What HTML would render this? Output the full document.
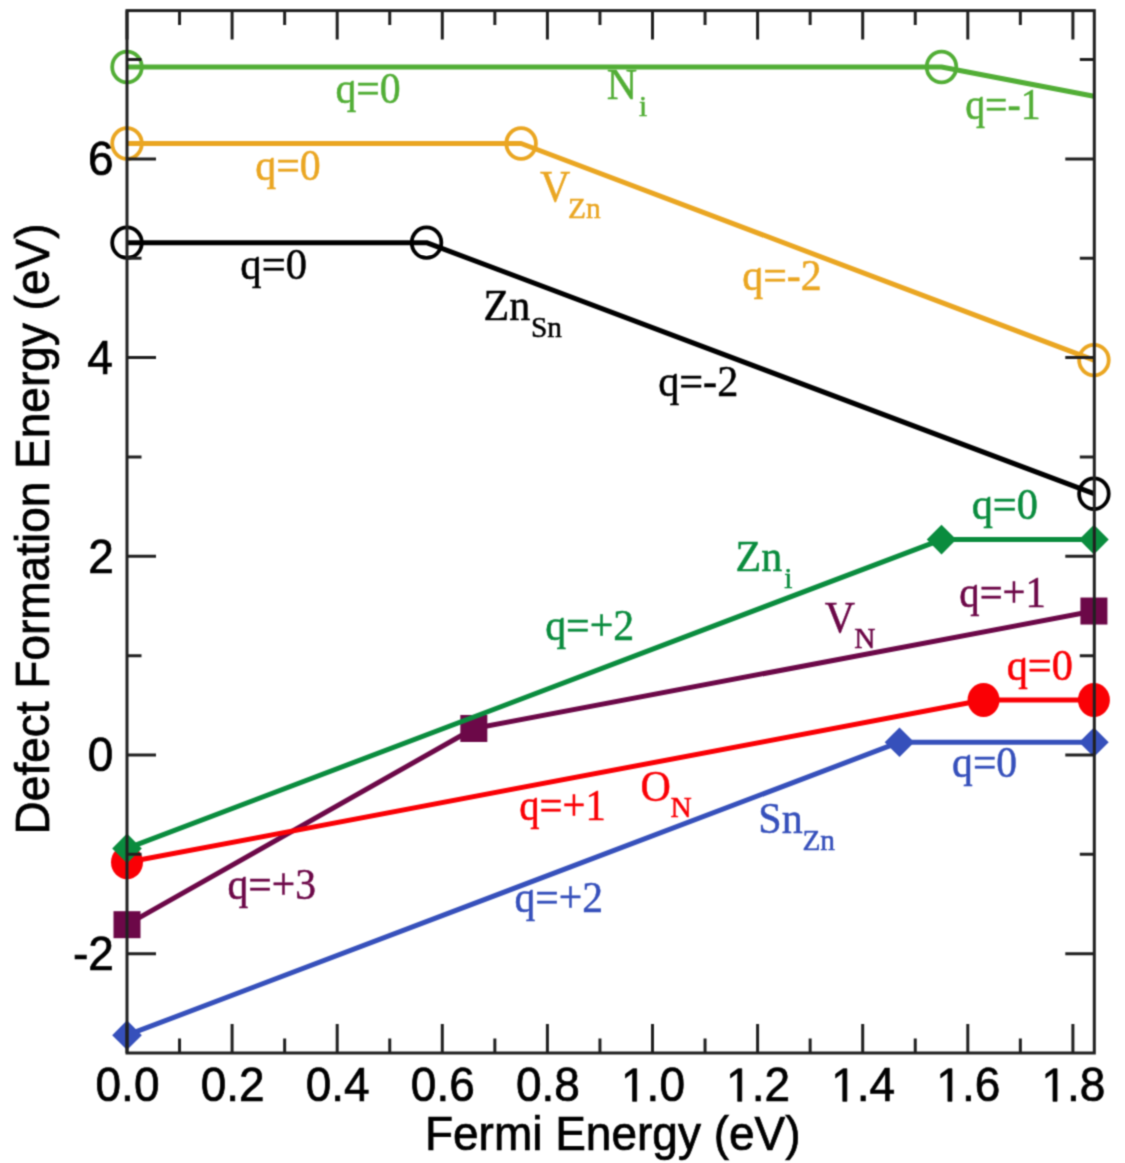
<!DOCTYPE html><html><head><meta charset="utf-8"><style>html,body{margin:0;padding:0;background:#fff;}svg{display:block;}</style></head><body>
<svg width="1125" height="1163" viewBox="0 0 1125 1163">
<defs><filter id="bl" x="0" y="0" width="1125" height="1163" filterUnits="userSpaceOnUse" color-interpolation-filters="sRGB"><feConvolveMatrix order="3" kernelMatrix="0.04000 0.12000 0.04000 0.12000 0.36000 0.12000 0.04000 0.12000 0.04000" divisor="1" edgeMode="duplicate" preserveAlpha="true"/></filter></defs>
<g filter="url(#bl)">
<rect width="1125" height="1163" fill="#fff"/>
<polyline points="127.00,924.69 473.83,728.47 1093.92,611.04" fill="none" stroke="#6c0848" stroke-width="5.0" stroke-linejoin="round"/>
<rect x="113.50" y="911.19" width="27.00" height="27.00" fill="#6c0848"/>
<rect x="460.33" y="714.97" width="27.00" height="27.00" fill="#6c0848"/>
<rect x="1080.42" y="597.54" width="27.00" height="27.00" fill="#6c0848"/>
<polyline points="127.00,862.30 983.56,700.06 1093.92,700.06" fill="none" stroke="#fa0005" stroke-width="5.0" stroke-linejoin="round"/>
<ellipse cx="127.00" cy="862.30" rx="16.0" ry="17.0" fill="#fa0005"/>
<ellipse cx="983.56" cy="700.06" rx="16.0" ry="17.0" fill="#fa0005"/>
<ellipse cx="1093.92" cy="700.06" rx="16.0" ry="17.0" fill="#fa0005"/>
<polyline points="127.00,848.39 941.52,539.61 1093.92,539.61" fill="none" stroke="#0a8c3e" stroke-width="5.0" stroke-linejoin="round"/>
<polygon points="112.20,848.39 127.00,833.59 141.80,848.39 127.00,863.19" fill="#0a8c3e"/>
<polygon points="926.73,539.61 941.52,524.81 956.32,539.61 941.52,554.41" fill="#0a8c3e"/>
<polygon points="1079.12,539.61 1093.92,524.81 1108.72,539.61 1093.92,554.41" fill="#0a8c3e"/>
<polyline points="127.00,1035.17 899.49,742.18 1093.92,742.18" fill="none" stroke="#3650bb" stroke-width="5.0" stroke-linejoin="round"/>
<polygon points="112.20,1035.17 127.00,1020.37 141.80,1035.17 127.00,1049.97" fill="#3650bb"/>
<polygon points="884.69,742.18 899.49,727.38 914.28,742.18 899.49,756.98" fill="#3650bb"/>
<polygon points="1079.12,742.18 1093.92,727.38 1108.72,742.18 1093.92,756.98" fill="#3650bb"/>
<polyline points="127.00,242.65 426.53,242.65 1093.92,493.71" fill="none" stroke="#000000" stroke-width="5.0" stroke-linejoin="round"/>
<ellipse cx="127.00" cy="242.65" rx="14.8" ry="15.3" fill="none" stroke="#000000" stroke-width="3.8"/>
<ellipse cx="426.53" cy="242.65" rx="14.8" ry="15.3" fill="none" stroke="#000000" stroke-width="3.8"/>
<ellipse cx="1093.92" cy="493.71" rx="14.8" ry="15.3" fill="none" stroke="#000000" stroke-width="3.8"/>
<polyline points="127.00,143.50 521.12,143.50 1093.92,360.08" fill="none" stroke="#eaa622" stroke-width="5.0" stroke-linejoin="round"/>
<ellipse cx="127.00" cy="143.50" rx="14.8" ry="15.3" fill="none" stroke="#eaa622" stroke-width="3.8"/>
<ellipse cx="521.12" cy="143.50" rx="14.8" ry="15.3" fill="none" stroke="#eaa622" stroke-width="3.8"/>
<ellipse cx="1093.92" cy="360.08" rx="14.8" ry="15.3" fill="none" stroke="#eaa622" stroke-width="3.8"/>
<polyline points="127.00,67.00 941.52,67.00 1093.92,96.31" fill="none" stroke="#52ae36" stroke-width="5.0" stroke-linejoin="round"/>
<ellipse cx="127.00" cy="67.00" rx="14.8" ry="15.3" fill="none" stroke="#52ae36" stroke-width="3.8"/>
<ellipse cx="941.52" cy="67.00" rx="14.8" ry="15.3" fill="none" stroke="#52ae36" stroke-width="3.8"/>
<path d="M127.00 1053.00L127.00 1024.00 M127.00 10.60L127.00 39.60 M179.55 1053.00L179.55 1038.50 M179.55 10.60L179.55 25.10 M232.10 1053.00L232.10 1024.00 M232.10 10.60L232.10 39.60 M284.65 1053.00L284.65 1038.50 M284.65 10.60L284.65 25.10 M337.20 1053.00L337.20 1024.00 M337.20 10.60L337.20 39.60 M389.75 1053.00L389.75 1038.50 M389.75 10.60L389.75 25.10 M442.30 1053.00L442.30 1024.00 M442.30 10.60L442.30 39.60 M494.85 1053.00L494.85 1038.50 M494.85 10.60L494.85 25.10 M547.40 1053.00L547.40 1024.00 M547.40 10.60L547.40 39.60 M599.95 1053.00L599.95 1038.50 M599.95 10.60L599.95 25.10 M652.50 1053.00L652.50 1024.00 M652.50 10.60L652.50 39.60 M705.05 1053.00L705.05 1038.50 M705.05 10.60L705.05 25.10 M757.60 1053.00L757.60 1024.00 M757.60 10.60L757.60 39.60 M810.15 1053.00L810.15 1038.50 M810.15 10.60L810.15 25.10 M862.70 1053.00L862.70 1024.00 M862.70 10.60L862.70 39.60 M915.25 1053.00L915.25 1038.50 M915.25 10.60L915.25 25.10 M967.80 1053.00L967.80 1024.00 M967.80 10.60L967.80 39.60 M1020.35 1053.00L1020.35 1038.50 M1020.35 10.60L1020.35 25.10 M1072.90 1053.00L1072.90 1024.00 M1072.90 10.60L1072.90 39.60 M127.00 953.70L156.00 953.70 M1094.30 953.70L1065.30 953.70 M127.00 854.35L141.50 854.35 M1094.30 854.35L1079.80 854.35 M127.00 755.00L156.00 755.00 M1094.30 755.00L1065.30 755.00 M127.00 655.65L141.50 655.65 M1094.30 655.65L1079.80 655.65 M127.00 556.30L156.00 556.30 M1094.30 556.30L1065.30 556.30 M127.00 456.95L141.50 456.95 M1094.30 456.95L1079.80 456.95 M127.00 357.60L156.00 357.60 M1094.30 357.60L1065.30 357.60 M127.00 258.25L141.50 258.25 M1094.30 258.25L1079.80 258.25 M127.00 158.90L156.00 158.90 M1094.30 158.90L1065.30 158.90 M127.00 59.55L141.50 59.55 M1094.30 59.55L1079.80 59.55" stroke="#202020" stroke-width="3.0" fill="none"/>
<rect x="127.0" y="10.6" width="967.3" height="1042.4" fill="none" stroke="#202020" stroke-width="3.0"/>
<g font-family='"Liberation Sans", sans-serif' font-size="46" fill="#000" stroke="#000" stroke-width="0.7">
<text transform="translate(95.53,1101.3) scale(1,1.03)">0</text>
<text transform="translate(121.11,1101.3) scale(1,1.03)">.</text>
<text transform="translate(133.89,1101.3) scale(1,1.03)">0</text>
<text transform="translate(200.63,1101.3) scale(1,1.03)">0</text>
<text transform="translate(226.21,1101.3) scale(1,1.03)">.</text>
<text transform="translate(238.99,1101.3) scale(1,1.03)">2</text>
<text transform="translate(305.73,1101.3) scale(1,1.03)">0</text>
<text transform="translate(331.31,1101.3) scale(1,1.03)">.</text>
<text transform="translate(344.09,1101.3) scale(1,1.03)">4</text>
<text transform="translate(410.83,1101.3) scale(1,1.03)">0</text>
<text transform="translate(436.41,1101.3) scale(1,1.03)">.</text>
<text transform="translate(449.19,1101.3) scale(1,1.03)">6</text>
<text transform="translate(515.93,1101.3) scale(1,1.03)">0</text>
<text transform="translate(541.51,1101.3) scale(1,1.03)">.</text>
<text transform="translate(554.29,1101.3) scale(1,1.03)">8</text>
<path transform="translate(621.03,1101.3) scale(0.02246,-0.02313)" d="M515 0H696V1409H530L197 1180V1010L515 1237Z" fill="#000" stroke-width="31.2"/>
<text transform="translate(646.61,1101.3) scale(1,1.03)">.</text>
<text transform="translate(659.39,1101.3) scale(1,1.03)">0</text>
<path transform="translate(726.13,1101.3) scale(0.02246,-0.02313)" d="M515 0H696V1409H530L197 1180V1010L515 1237Z" fill="#000" stroke-width="31.2"/>
<text transform="translate(751.71,1101.3) scale(1,1.03)">.</text>
<text transform="translate(764.49,1101.3) scale(1,1.03)">2</text>
<path transform="translate(831.23,1101.3) scale(0.02246,-0.02313)" d="M515 0H696V1409H530L197 1180V1010L515 1237Z" fill="#000" stroke-width="31.2"/>
<text transform="translate(856.81,1101.3) scale(1,1.03)">.</text>
<text transform="translate(869.59,1101.3) scale(1,1.03)">4</text>
<path transform="translate(936.33,1101.3) scale(0.02246,-0.02313)" d="M515 0H696V1409H530L197 1180V1010L515 1237Z" fill="#000" stroke-width="31.2"/>
<text transform="translate(961.91,1101.3) scale(1,1.03)">.</text>
<text transform="translate(974.69,1101.3) scale(1,1.03)">6</text>
<path transform="translate(1041.43,1101.3) scale(0.02246,-0.02313)" d="M515 0H696V1409H530L197 1180V1010L515 1237Z" fill="#000" stroke-width="31.2"/>
<text transform="translate(1067.01,1101.3) scale(1,1.03)">.</text>
<text transform="translate(1079.79,1101.3) scale(1,1.03)">8</text>
<text transform="translate(72.91,970.24) scale(1,1.03)">-2</text>
<text transform="translate(87.71,771.31) scale(1,1.03)">0</text>
<text transform="translate(88.23,572.84) scale(1,1.03)">2</text>
<text transform="translate(87.26,373.90) scale(1,1.03)">4</text>
<text transform="translate(87.94,175.21) scale(1,1.03)">6</text>
<text transform="translate(424.9,1150.1) scale(1,1.03)">Fermi Energy (eV)</text>
<text transform="translate(48.5,834.4) rotate(-90) scale(1,1.03)">Defect Formation Energy (eV)</text>
</g>
<g font-family='"Liberation Serif", serif'>
<text transform="translate(335.39,103.30) scale(0.9941,1.03)" font-size="42" fill="#52ae36" stroke="#52ae36" stroke-width="0.5">q=0</text>
<text transform="translate(255.19,180.00) scale(0.9973,1.03)" font-size="42" fill="#eaa622" stroke="#eaa622" stroke-width="0.5">q=0</text>
<text transform="translate(240.36,278.70) scale(1.0133,1.03)" font-size="42" fill="#000000" stroke="#000000" stroke-width="0.5">q=0</text>
<text transform="translate(952.10,777.30) scale(0.9909,1.03)" font-size="42" fill="#3650bb" stroke="#3650bb" stroke-width="0.5">q=0</text>
<text transform="translate(1006.67,680.40) scale(1.0085,1.03)" font-size="42" fill="#fa0005" stroke="#fa0005" stroke-width="0.5">q=0</text>
<text transform="translate(971.67,519.20) scale(1.0101,1.03)" font-size="42" fill="#0a8c3e" stroke="#0a8c3e" stroke-width="0.5">q=0</text>
<text transform="translate(965.17,119.10) scale(0.9454,1.03)" font-size="42" fill="#52ae36" stroke="#52ae36" stroke-width="0.5">q=-1</text>
<text transform="translate(742.18,290.10) scale(0.9995,1.03)" font-size="42" fill="#eaa622" stroke="#eaa622" stroke-width="0.5">q=-2</text>
<text transform="translate(658.17,396.30) scale(1.0061,1.03)" font-size="42" fill="#000000" stroke="#000000" stroke-width="0.5">q=-2</text>
<text transform="translate(959.33,607.20) scale(0.9680,1.03)" font-size="42" fill="#6c0848" stroke="#6c0848" stroke-width="0.5">q=+1</text>
<text transform="translate(519.23,820.40) scale(0.9680,1.03)" font-size="42" fill="#fa0005" stroke="#fa0005" stroke-width="0.5">q=+1</text>
<text transform="translate(545.19,639.80) scale(0.9960,1.03)" font-size="42" fill="#0a8c3e" stroke="#0a8c3e" stroke-width="0.5">q=+2</text>
<text transform="translate(514.50,911.60) scale(0.9914,1.03)" font-size="42" fill="#3650bb" stroke="#3650bb" stroke-width="0.5">q=+2</text>
<text transform="translate(227.60,898.50) scale(0.9894,1.03)" font-size="42" fill="#6c0848" stroke="#6c0848" stroke-width="0.5">q=+3</text>
<text transform="translate(606.79,99.10) scale(1.0000,1.03)" font-size="42" fill="#52ae36" stroke="#52ae36" stroke-width="0.5">N</text>
<text transform="translate(638.98,116.00) scale(1.0000,1.03)" font-size="29.4" fill="#52ae36" stroke="#52ae36" stroke-width="0.5">i</text>
<text transform="translate(540.03,201.10) scale(1.0000,1.03)" font-size="42" fill="#eaa622" stroke="#eaa622" stroke-width="0.5">V</text>
<text transform="translate(568.09,218.20) scale(1.0000,1.03)" font-size="29.4" fill="#eaa622" stroke="#eaa622" stroke-width="0.5">Zn</text>
<text transform="translate(483.59,319.60) scale(1.0000,1.03)" font-size="42" fill="#000000" stroke="#000000" stroke-width="0.5">Zn</text>
<text transform="translate(531.03,336.70) scale(1.0000,1.03)" font-size="29.4" fill="#000000" stroke="#000000" stroke-width="0.5">Sn</text>
<text transform="translate(735.49,570.50) scale(1.0000,1.03)" font-size="42" fill="#0a8c3e" stroke="#0a8c3e" stroke-width="0.5">Zn</text>
<text transform="translate(784.18,587.60) scale(1.0000,1.03)" font-size="29.4" fill="#0a8c3e" stroke="#0a8c3e" stroke-width="0.5">i</text>
<text transform="translate(824.83,632.40) scale(1.0000,1.03)" font-size="42" fill="#6c0848" stroke="#6c0848" stroke-width="0.5">V</text>
<text transform="translate(854.35,648.30) scale(1.0000,1.03)" font-size="29.4" fill="#6c0848" stroke="#6c0848" stroke-width="0.5">N</text>
<text transform="translate(640.38,800.50) scale(1.0000,1.03)" font-size="42" fill="#fa0005" stroke="#fa0005" stroke-width="0.5">O</text>
<text transform="translate(670.45,816.90) scale(1.0000,1.03)" font-size="29.4" fill="#fa0005" stroke="#fa0005" stroke-width="0.5">N</text>
<text transform="translate(758.29,833.30) scale(1.0000,1.03)" font-size="42" fill="#3650bb" stroke="#3650bb" stroke-width="0.5">Sn</text>
<text transform="translate(802.39,850.20) scale(1.0000,1.03)" font-size="29.4" fill="#3650bb" stroke="#3650bb" stroke-width="0.5">Zn</text>
</g>
</g>
</svg></body></html>
